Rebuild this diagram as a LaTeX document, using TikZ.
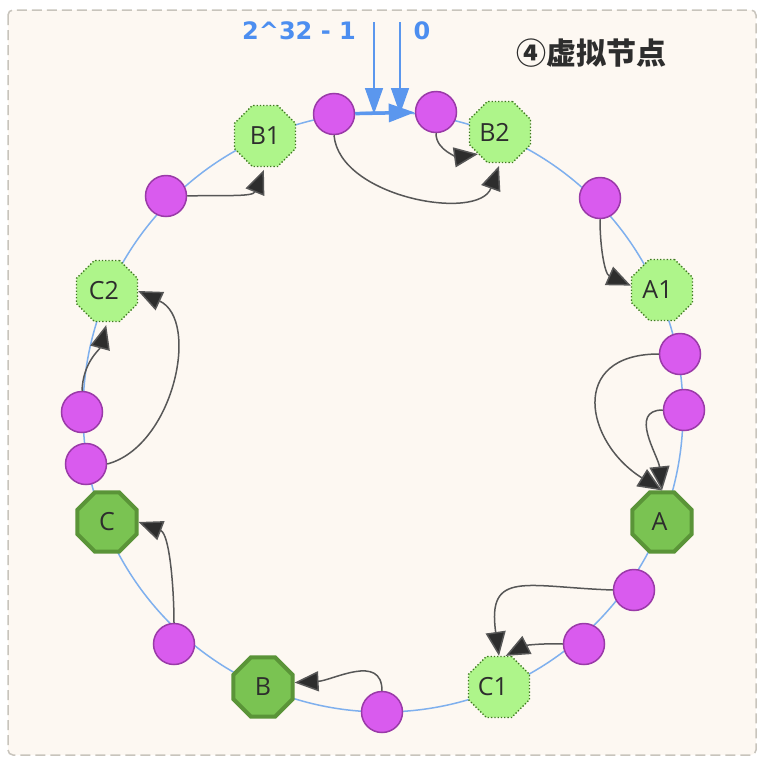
\documentclass[tikz,border=0pt]{standalone}
\usepackage{fontspec}
\setmainfont{Open Sans}
\newfontfamily\blueface{DejaVu Sans}
\newfontfamily\cjk{Noto Sans CJK SC}
\usetikzlibrary{arrows.meta,shapes.geometric}
\definecolor{paper}{HTML}{FDF8F2}
\definecolor{frameline}{HTML}{C8C4BC}
\definecolor{ringblue}{HTML}{7FB0EE}
\definecolor{markblue}{HTML}{5B97EE}
\definecolor{textblue}{HTML}{4C8EF0}
\definecolor{vnodefill}{HTML}{AEF58A}
\definecolor{vnodeline}{HTML}{3F7A20}
\definecolor{rnodefill}{HTML}{7AC352}
\definecolor{rnodeline}{HTML}{5A9438}
\definecolor{keyfill}{HTML}{D95BEE}
\definecolor{keyline}{HTML}{9A3AA8}
\definecolor{inkdark}{HTML}{2D2D2D}
\tikzset{
  vnode/.style={regular polygon,regular polygon sides=8,minimum size=66pt,inner sep=0pt,
    draw=vnodeline,dotted,line width=1.3pt,fill=vnodefill,text=inkdark,
    font=\fontsize{25}{25}\selectfont},
  rnode/.style={regular polygon,regular polygon sides=8,minimum size=64pt,inner sep=0pt,
    draw=rnodeline,line width=4pt,fill=rnodefill,text=inkdark,
    font=\fontsize{25}{25}\selectfont},
  keynode/.style={circle,minimum size=41pt,inner sep=0pt,draw=keyline,line width=1.5pt,fill=keyfill},
  hop/.style={draw=inkdark!80,line width=1.5pt,-{Triangle[length=24pt,width=20pt,fill=inkdark]}},
  startmark/.style={draw=markblue,-{Triangle[length=26pt,width=18pt]}},
  bluelabel/.style={text=textblue,font=\blueface\bfseries\fontsize{24}{24}\selectfont}
}
\begin{document}
\begin{tikzpicture}[x=1pt,y=-1pt]
   \useasboundingbox (0,0) rectangle (768,766);
   % paper and ring
   \draw[frameline,fill=paper,line width=1.5pt,dash pattern=on 10pt off 5pt,rounded corners=5pt] (8,10) rectangle (756,755);
   \coordinate (ringc) at (383,412);
   \draw[ringblue,line width=1.5pt] (ringc) circle (300pt);

   % servers
   \node[vnode] (B1) at (265,136) {B1};
   \node[vnode] (B2) at (500,132) {B2\kern11pt};
   \node[vnode] (A1) at (662,290) {A1\kern9pt};
   \node[vnode] (C1) at (499,687) {C1\kern12pt};
   \node[vnode] (C2) at (107,291) {C2\kern6pt};
   \node[rnode] (A) at (662,522) {A\kern5pt};
   \node[rnode] (B) at (263,687) {B};
   \node[rnode] (C) at (107,522) {C};

   % keys
   \node[keynode] (k1) at (334,114) {};
   \node[keynode] (k2) at (436,112) {};
   \node[keynode] (k3) at (600,198) {};
   \node[keynode] (k4) at (680,354) {};
   \node[keynode] (k5) at (684,410) {};
   \node[keynode] (k6) at (634,590) {};
   \node[keynode] (k7) at (584,644) {};
   \node[keynode] (k8) at (382,712) {};
   \node[keynode] (k9) at (174,644) {};
   \node[keynode] (k10) at (86,464) {};
   \node[keynode] (k11) at (82,412) {};
   \node[keynode] (k12) at (166,196) {};

   % hash start
   \coordinate (maxin) at (374,22);
   \coordinate (maxend) at (374,114);
   \coordinate (zeroin) at (400,22);
   \coordinate (zeroend) at (400,114);
   \draw[startmark,line width=3.5pt] (k1) -- (k2);
   \draw[startmark,line width=1.5pt] (maxin) -- (maxend);
   \draw[startmark,line width=1.5pt] (zeroin) -- (zeroend);
   \node[bluelabel] (maxlabel) at (299,31) {2\^{}32 - 1};
   \node[bluelabel] (zerolabel) at (422,31) {0};
   \node[text=inkdark,font=\cjk\bfseries\fontsize{30}{30}\selectfont] (title) at (591,53) {④虚拟节点};

   % key to server
   \draw[hop,shorten >=3pt] (k1.south) to[out=-85,in=-110,looseness=0.95] (B2.south);
   \draw[hop] (k2.south) to[out=-90,in=188] (B2.225);
   \draw[hop] (k3.south) to[out=-90,in=156] (A1.172);
   \draw[hop] (k4.west) to[out=180,in=148,looseness=1.7] (A.north);
   \draw[hop] (k5.west) to[out=180,in=96,looseness=1.1] (A.north);
   \draw[hop] (k6.west) to[out=178,in=98,looseness=1.7] (C1.north);
   \draw[hop] (k7.west) to[out=178,in=27] (C1.78);
   \draw[hop] (k8.north) to[out=90,in=3,looseness=1.1] (B.8);
   \draw[hop] (k9.north) to[out=90,in=-21,looseness=0.8] (C.east);
   \draw[hop] (k10.east) to[out=15,in=-25] (C2.east);
   \draw[hop,shorten >=3pt] (k11.north) to[out=88,in=-105] (C2.south);
   \draw[hop,shorten >=3pt] (k12.east) to[out=2,in=-112] (B1.south);
\end{tikzpicture}
\end{document}
